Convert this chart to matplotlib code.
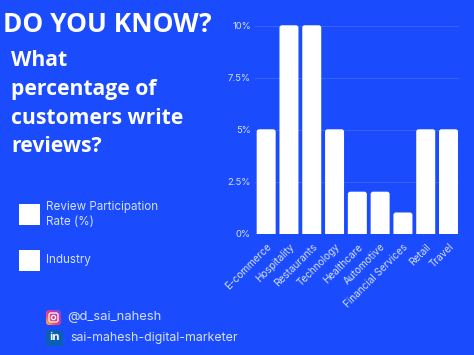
import matplotlib
matplotlib.use("Agg")
import matplotlib.pyplot as plt
from matplotlib.colors import LinearSegmentedColormap
from matplotlib.patches import FancyBboxPatch, Rectangle, Circle
import numpy as np

W, H = 474, 355
BLUE = "#1a4bfd"
LIGHT = "#d5e0ff"
SMALL = ["Inter", "DejaVu Sans"]

industries = ["E-commerce", "Hospitality", "Restaurants", "Technology", "Healthcare",
              "Automotive", "Financial Services", "Retail", "Travel"]
rates = [5, 10, 10, 5, 2, 2, 1, 5, 5]
ytick_vals = [0, 2.5, 5, 7.5, 10]
ytick_labels = ["0%", "2.5%", "5%", "7.5%", "10%"]

plt.rcParams["font.family"] = ["Open Sans", "DejaVu Sans"]

fig = plt.figure(figsize=(W / 100, H / 100), dpi=100, facecolor=BLUE)

# overlay in pixel coords for the poster text
bg = fig.add_axes([0, 0, 1, 1])
bg.set_xlim(0, W)
bg.set_ylim(H, 0)
bg.axis("off")

# chart axes
left, right, bottom, top = 255, 459, 233.5, 25.5
extra = 10
ax = fig.add_axes([left / W, 1 - bottom / H, (right - left) / W, (bottom - top + extra) / H])
ax.set_facecolor("none")
ax.set_xlim(-0.49, 8.46)
ax.set_ylim(0, 10 * (bottom - top + extra) / (bottom - top))
for s in ax.spines.values():
    s.set_visible(False)

x = np.arange(len(rates))
bar_w = 0.833
px_x = (right - left) / (ax.get_xlim()[1] - ax.get_xlim()[0])
px_y = (bottom - top) / 10
ax.set_axisbelow(True)
ax.yaxis.grid(True, color="#3a63fe", lw=0.7)
ax.xaxis.grid(False)
for xi, v in zip(x, rates):
    r = 2.5 / px_x
    # start below zero so only the top corners show rounded
    p = FancyBboxPatch((xi - bar_w / 2 + r, -1), bar_w - 2 * r, v + 1 - r,
                       boxstyle="round,pad=%f,rounding_size=%f" % (r, r),
                       mutation_aspect=px_x / px_y,
                       fc="white", ec="none", clip_on=True)
    ax.add_patch(p)

ax.set_yticks(ytick_vals)
ax.set_yticklabels(ytick_labels, fontsize=6.8, color=LIGHT, family=SMALL)
ax.set_xticks(x)
ax.set_xticklabels(industries, fontsize=7.2, color=LIGHT, rotation=45, ha="right",
                   rotation_mode="anchor", family=SMALL)
ax.tick_params(axis="both", length=0)
ax.tick_params(axis="y", pad=3)
ax.tick_params(axis="x", pad=6)

# heading
bg.text(3, 24, "DO YOU KNOW?", fontsize=18.9, fontweight="bold", color="white", va="center")
for y, line in zip([60, 89, 118, 146],
                   ["What", "percentage of", "customers write", "reviews?"]):
    bg.text(11, y, line, fontsize=15.2, fontweight="bold", color="white", va="center")

# legend
bg.add_patch(Rectangle((19, 204), 21, 21, fc="white", ec="none"))
bg.add_patch(Rectangle((19, 250), 21, 21, fc="white", ec="none"))
bg.text(46, 207, "Review Participation", fontsize=8.4, color=LIGHT, va="center", family=SMALL)
bg.text(46, 222, "Rate (%)", fontsize=8.4, color=LIGHT, va="center", family=SMALL)
bg.text(46, 260, "Industry", fontsize=8.4, color=LIGHT, va="center", family=SMALL)

# instagram icon
ig_cmap = LinearSegmentedColormap.from_list("ig", ["#ffb14a", "#f5476a", "#c23aa8", "#7a4be0"])
grad = np.linspace(1, 0, 16)[:, None] * np.ones((16, 16))
grad = (grad + np.linspace(0, 1, 16)[None, :]) / 2
im = bg.imshow(grad, extent=(46, 61, 325, 310), cmap=ig_cmap, vmin=0, vmax=1,
               aspect="auto", zorder=2)
im.set_clip_path(FancyBboxPatch((47.5, 311.5), 12, 12, boxstyle="round,pad=1.5,rounding_size=3",
                                transform=bg.transData))
bg.set_xlim(0, W)
bg.set_ylim(H, 0)
bg.add_patch(FancyBboxPatch((49.5, 313.5), 8, 8, boxstyle="round,pad=0.5,rounding_size=2",
                            fc="none", ec="white", lw=0.9, zorder=3))
bg.add_patch(Circle((53.5, 317.5), 2.1, fc="none", ec="white", lw=0.9, zorder=3))

# linkedin icon
bg.add_patch(Rectangle((46, 330), 17, 16, fc="#0a5fb4", ec="none"))
bg.text(54.5, 338, "in", fontsize=8, fontweight="bold", color="white", ha="center", va="center")

bg.text(67, 317, "@d_sai_nahesh", fontsize=9.4, color=LIGHT, va="center", family=SMALL)
bg.text(70, 338.5, "sai-mahesh-digital-marketer", fontsize=8.9, color=LIGHT, va="center", family=SMALL)

fig.savefig("out.png", dpi=100, facecolor=BLUE)
